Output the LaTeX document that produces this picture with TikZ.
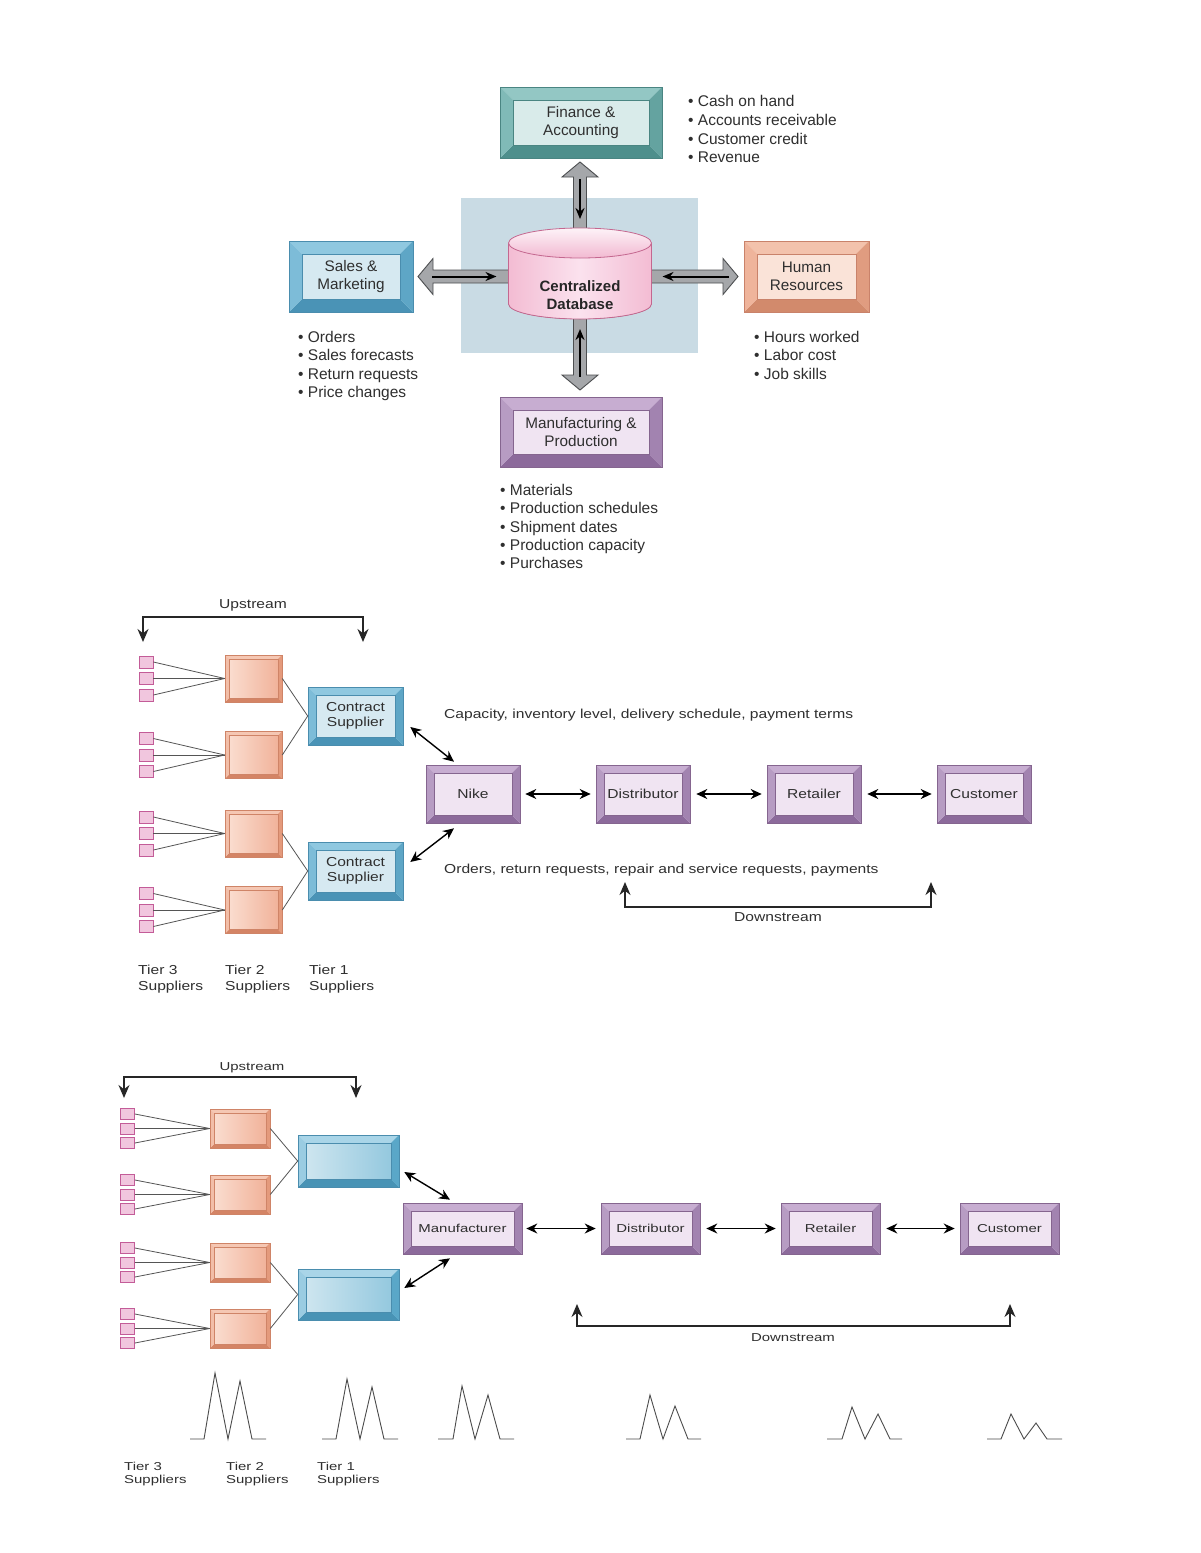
\documentclass[tikz,border=0pt]{standalone}
\usepackage{fontspec}
\setmainfont{Liberation Sans}
\newfontfamily\wfa[FakeStretch=1.2]{Liberation Sans}
\newfontfamily\wfb[FakeStretch=1.3]{Liberation Sans}
\usetikzlibrary{arrows.meta,calc}
% colour schemes: T top, L left, B bottom, R right, I inner, D border
\definecolor{tealT}{HTML}{93C7C4}\definecolor{tealL}{HTML}{80BAB7}\definecolor{tealB}{HTML}{4E8F8C}
\definecolor{tealR}{HTML}{64A3A0}\definecolor{tealI}{HTML}{D9EBEA}\definecolor{tealD}{HTML}{4A8582}
\definecolor{bluT}{HTML}{8FC8E0}\definecolor{bluL}{HTML}{7DBCD8}\definecolor{bluB}{HTML}{4A93B6}
\definecolor{bluR}{HTML}{5EA6C6}\definecolor{bluI}{HTML}{D6E9F1}\definecolor{bluD}{HTML}{4A8DAE}
\definecolor{salT}{HTML}{F3C2AC}\definecolor{salL}{HTML}{EFB49B}\definecolor{salB}{HTML}{D28A6C}
\definecolor{salR}{HTML}{E09C80}\definecolor{salI}{HTML}{FAE3D8}\definecolor{salD}{HTML}{C9826A}
\definecolor{purT}{HTML}{C7ADD1}\definecolor{purL}{HTML}{B79CC3}\definecolor{purB}{HTML}{8C6A9B}
\definecolor{purR}{HTML}{A283B0}\definecolor{purI}{HTML}{F0E4F2}\definecolor{purD}{HTML}{85658F}
\definecolor{sal2T}{HTML}{F5C7B3}\definecolor{sal2L}{HTML}{F2BEA8}\definecolor{sal2B}{HTML}{D48465}
\definecolor{sal2R}{HTML}{E49A7C}\definecolor{sal2D}{HTML}{CF8467}
\definecolor{sal2a}{HTML}{FBE0D3}\definecolor{sal2b}{HTML}{F0AF96}
\definecolor{blu2T}{HTML}{A9D5E8}\definecolor{blu2L}{HTML}{9ACCE2}\definecolor{blu2B}{HTML}{4893B5}
\definecolor{blu2R}{HTML}{5AA7C8}\definecolor{blu2D}{HTML}{4A8DAE}
\definecolor{blu2a}{HTML}{D3E8F1}\definecolor{blu2b}{HTML}{8FC6DD}
\definecolor{sqF}{HTML}{F1C6DE}\definecolor{sqD}{HTML}{C35C98}
\definecolor{bgsq}{HTML}{C9DBE4}
\definecolor{dbside}{HTML}{F3BCD3}\definecolor{dbmid}{HTML}{FBE2EE}\definecolor{dbedge}{HTML}{C4678F}
\definecolor{dbtop}{HTML}{FDF3F8}\definecolor{dbtopb}{HTML}{F2B9D1}
\definecolor{garF}{HTML}{A5A7AA}\definecolor{garD}{HTML}{4D4F51}
\definecolor{txt}{HTML}{2F2F2F}
\definecolor{lnc}{HTML}{555555}

\tikzset{
  bevd/.store in=\bevd, bevd=12pt,
  bevel/.style={draw=#1D, line width=0.6pt, inner sep=0pt, align=center, text=txt,
    path picture={
      \coordinate (bA) at (path picture bounding box.south west);
      \coordinate (bC) at (path picture bounding box.north east);
      \coordinate (bB) at (bA-|bC);
      \coordinate (bD) at (bA|-bC);
      \fill[#1T] (bD) -- (bC) -- ([shift={(-\bevd,-\bevd)}]bC) -- ([shift={(\bevd,-\bevd)}]bD) -- cycle;
      \fill[#1B] (bA) -- (bB) -- ([shift={(-\bevd,\bevd)}]bB) -- ([shift={(\bevd,\bevd)}]bA) -- cycle;
      \fill[#1L] (bA) -- (bD) -- ([shift={(\bevd,-\bevd)}]bD) -- ([shift={(\bevd,\bevd)}]bA) -- cycle;
      \fill[#1R] (bB) -- (bC) -- ([shift={(-\bevd,-\bevd)}]bC) -- ([shift={(-\bevd,\bevd)}]bB) -- cycle;
      \draw[#1D, line width=0.4pt] ([shift={(\bevd,\bevd)}]bA) rectangle ([shift={(-\bevd,-\bevd)}]bC);
    }},
  topbox/.style={bevel=#1, fill=#1I, bevd=13pt, font=\fontsize{15.3}{18}\selectfont},
  midbox/.style={bevel=#1, fill=#1I, bevd=8pt, font=\wfa\fontsize{13}{15}\selectfont},
  botbox/.style={bevel=#1, fill=#1I, bevd=8pt, font=\wfb\fontsize{11.5}{13}\selectfont},
  tiertwo/.style={bevel=sal2, left color=sal2a, right color=sal2b, bevd=4pt},
  tierone/.style={bevel=blu2, left color=blu2a, right color=blu2b, bevd=8pt},
  sqm/.style={draw=sqD, fill=sqF, line width=0.8pt, inner sep=0pt, minimum width=14pt, minimum height=12pt},
  sqb/.style={draw=sqD, fill=sqF, line width=0.8pt, inner sep=0pt, minimum width=14pt, minimum height=11pt},
  fan/.style={draw=lnc, line width=0.8pt},
  bul/.style={anchor=north west, inner sep=0pt, align=left, text=txt, font=\fontsize{15.5}{18.3}\selectfont},
  midtxt/.style={inner sep=0pt, text=txt, font=\wfa\fontsize{13}{16}\selectfont, align=left},
  bottxt/.style={inner sep=0pt, text=txt, font=\wfb\fontsize{11.5}{12.5}\selectfont, align=left},
  garr/.style={fill=garF, draw=garD, line width=0.9pt, line join=miter},
  blk/.style={-{Stealth[length=11pt,width=9pt]}, line width=2pt, black},
  dbl/.style={{Stealth[length=11pt,width=10pt]}-{Stealth[length=11pt,width=10pt]}, line width=1.4pt, black},
  brk/.style={{Stealth[length=13pt,width=11pt]}-{Stealth[length=13pt,width=11pt]}, line width=1.3pt, black!85},
  peak/.style={draw=black!70, line width=0.9pt, line join=miter},
}
\newcommand\garrow[4]{%
  \begin{scope}[shift={(#1,#2)}, rotate=#3]
    \filldraw[garr] (0,0) -- (15,18) -- (15,6.5) -- (#4,6.5) -- (#4,-6.5) -- (15,-6.5) -- (15,-18) -- cycle;
  \end{scope}}

\begin{document}
\begin{tikzpicture}[x=1pt,y=-1pt]
\useasboundingbox[fill=white] (0,0) rectangle (1200,1553);

% ================= TOP DIAGRAM =================
\fill[bgsq] (461,198) rectangle (698,353);
\garrow{580}{162}{-90}{80}
\garrow{418}{276.5}{0}{97}
\garrow{738}{276.5}{180}{93}
\garrow{580}{390}{90}{78}

% cylinder
\fill[left color=dbside, right color=dbside, middle color=dbmid] (508.5,243) -- (508.5,304) arc[start angle=180,end angle=360,x radius=71.5pt,y radius=15pt] -- (651.5,243) -- cycle;
\draw[dbedge, line width=0.8pt] (508.5,243) -- (508.5,304) arc[start angle=180,end angle=360,x radius=71.5pt,y radius=15pt] -- (651.5,243);
\draw[dbedge, line width=0.8pt, top color=dbtop, bottom color=dbtopb] (580,243) ellipse[x radius=71.5pt, y radius=15pt];
\node[inner sep=0pt, align=center, font=\bfseries\fontsize{15}{18}\selectfont, text=black!85] (db) at (580,295) {Centralized\\Database};
\coordinate (dbN) at (580,228);
\coordinate (dbS) at (580,319);
\coordinate (dbW) at (508.5,276.5);
\coordinate (dbE) at (651.5,276.5);

\node[topbox=teal, minimum width=162pt, minimum height=71pt] (fin) at (581,122.5) {Finance \&\\Accounting};
\node[topbox=blu, minimum width=124pt, minimum height=71pt] (sal) at (351,276.5) {Sales \&\\Marketing};
\node[topbox=sal, minimum width=125pt, minimum height=71pt] (hr) at (806.5,276.5) {Human\\Resources};
\node[topbox=pur, minimum width=162pt, minimum height=70pt] (mfg) at (581,432) {Manufacturing \&\\Production};

\draw[blk] ($(dbN|-fin.south)+(0,21)$) -- ($(dbN)+(0,-9)$);
\draw[blk] ($(sal.east)+(19,0)$) -- ($(dbW)+(-12,0)$);
\draw[blk] ($(hr.west)+(-15,0)$) -- ($(dbE)+(11,0)$);
\draw[blk] ($(dbS|-mfg.north)+(0,-20)$) -- ($(dbS)+(0,10)$);

\node[bul, font=\fontsize{15.5}{18.8}\selectfont] (finlist) at (688,95) {• Cash on hand\\• Accounts receivable\\• Customer credit\\• Revenue};
\node[bul] (sallist) at (298,331) {• Orders\\• Sales forecasts\\• Return requests\\• Price changes};
\node[bul] (hrlist) at (754,331) {• Hours worked\\• Labor cost\\• Job skills};
\node[bul] (mfglist) at (500,484) {• Materials\\• Production schedules\\• Shipment dates\\• Production capacity\\• Purchases};

% ================= MIDDLE DIAGRAM =================
\node[midtxt] (upm) at (253,605) {Upstream};
\coordinate (upmA) at (143,642);
\coordinate (upmB) at (363,642);
\draw[brk] (upmA) -- (143,617) -- (363,617) -- (upmB);

\foreach \g/\yy in {1/678.5,2/755,3/833.5,4/910}{
  \node[tiertwo, minimum width=57pt, minimum height=47pt] (mt\g) at (253.5,\yy) {};
  \foreach \d/\j in {-16.5/a,0/b,16.5/c}{
    \node[sqm] (ms\g\j) at (146,{\yy+(\d)}) {};
    \draw[fan] (ms\g\j.east) -- (mt\g.west);
  }
}
\node[midbox=blu, minimum width=95pt, minimum height=58pt] (cs1) at (355.5,716) {Contract\\Supplier};
\node[midbox=blu, minimum width=95pt, minimum height=58pt] (cs2) at (355.5,871) {Contract\\Supplier};
\draw[fan] (mt1.east) -- (cs1.west);
\draw[fan] (mt2.east) -- (cs1.west);
\draw[fan] (mt3.east) -- (cs2.west);
\draw[fan] (mt4.east) -- (cs2.west);

\node[midbox=pur, minimum width=94pt, minimum height=58pt] (nike) at (473,794) {Nike};
\node[midbox=pur, minimum width=94pt, minimum height=58pt] (mdis) at (643,794) {Distributor};
\node[midbox=pur, minimum width=94pt, minimum height=58pt] (mret) at (814,794) {Retailer};
\node[midbox=pur, minimum width=94pt, minimum height=58pt] (mcus) at (984,794) {Customer};

\draw[dbl] ($(cs1.east)+(7,11)$) -- ($(nike.north)+(-19,-3)$);
\draw[dbl] ($(cs2.east)+(7,-9)$) -- ($(nike.south)+(-19,5)$);
\draw[dbl, shorten <=5pt, shorten >=5pt] (nike.east) -- (mdis.west);
\draw[dbl, shorten <=6pt, shorten >=5pt] (mdis.east) -- (mret.west);
\draw[dbl, shorten <=6pt, shorten >=5pt] (mret.east) -- (mcus.west);

\node[midtxt, anchor=west] (cap) at (444,715) {Capacity, inventory level, delivery schedule, payment terms};
\node[midtxt, anchor=west] (ord) at (444,870) {Orders, return requests, repair and service requests, payments};

\coordinate (dnmA) at (625,882);
\coordinate (dnmB) at (931,882);
\draw[brk] (dnmA) -- (625,907) -- (931,907) -- (dnmB);
\node[midtxt] (dnm) at (778,917) {Downstream};

\node[midtxt, anchor=north west] (t3m) at (138,965) {Tier 3\\Suppliers};
\node[midtxt, anchor=north west] (t2m) at (225,965) {Tier 2\\Suppliers};
\node[midtxt, anchor=north west] (t1m) at (309,965) {Tier 1\\Suppliers};

% ================= BOTTOM DIAGRAM =================
\node[bottxt] (upb) at (252,1068) {Upstream};
\coordinate (upbA) at (124,1098);
\coordinate (upbB) at (356,1098);
\draw[brk] (upbA) -- (124,1077) -- (356,1077) -- (upbB);

\foreach \g/\yy in {1/1128.5,2/1194.5,3/1262.5,4/1328.5}{
  \node[tiertwo, minimum width=60pt, minimum height=39pt] (bt\g) at (240,\yy) {};
  \foreach \d/\j in {-14.5/a,0/b,14.5/c}{
    \node[sqb] (bs\g\j) at (127.5,{\yy+(\d)}) {};
    \draw[fan] (bs\g\j.east) -- (bt\g.west);
  }
}
\node[tierone, minimum width=101pt, minimum height=52pt] (bo1) at (348.5,1161) {};
\node[tierone, minimum width=101pt, minimum height=51pt] (bo2) at (348.5,1294.5) {};
\draw[fan] (bt1.east) -- (bo1.west);
\draw[fan] (bt2.east) -- (bo1.west);
\draw[fan] (bt3.east) -- (bo2.west);
\draw[fan] (bt4.east) -- (bo2.west);

\node[botbox=pur, minimum width=119pt, minimum height=51pt] (man) at (462.5,1228.5) {Manufacturer};
\node[botbox=pur, minimum width=99pt, minimum height=51pt] (bdis) at (650.5,1228.5) {Distributor};
\node[botbox=pur, minimum width=99pt, minimum height=51pt] (bret) at (830.5,1228.5) {Retailer};
\node[botbox=pur, minimum width=99pt, minimum height=51pt] (bcus) at (1009.5,1228.5) {Customer};

\draw[dbl] ($(bo1.east)+(5,11)$) -- ($(man.north)+(-12.5,-3)$);
\draw[dbl] ($(bo2.east)+(5,-6.5)$) -- ($(man.south)+(-12.5,4)$);
\draw[dbl, shorten <=4pt, shorten >=5pt] (man.east) -- (bdis.west);
\draw[dbl, shorten <=6pt, shorten >=5pt] (bdis.east) -- (bret.west);
\draw[dbl, shorten <=6pt, shorten >=5pt] (bret.east) -- (bcus.west);

\coordinate (dnbA) at (577,1304);
\coordinate (dnbB) at (1010,1304);
\draw[brk] (dnbA) -- (577,1326) -- (1010,1326) -- (dnbB);
\node[bottxt] (dnb) at (793,1338) {Downstream};

% bullwhip peaks
\draw[peak] (190,1439) -- (204,1439) -- (215,1373) -- (228,1439) -- (240,1381) -- (252,1439) -- (266,1439);
\draw[peak] (322,1439) -- (336,1439) -- (347,1379) -- (360,1439) -- (372,1387) -- (384,1439) -- (398,1439);
\draw[peak] (438,1439) -- (453,1439) -- (462,1386) -- (475,1439) -- (488,1395) -- (500,1439) -- (514,1439);
\draw[peak] (626,1439) -- (640,1439) -- (650,1395) -- (663,1439) -- (675,1406) -- (688,1439) -- (701,1439);
\draw[peak] (827,1439) -- (842,1439) -- (852,1407) -- (865,1439) -- (878,1414) -- (890,1439) -- (902,1439);
\draw[peak] (987,1439) -- (1001,1439) -- (1011,1414) -- (1024,1439) -- (1036,1423) -- (1047,1439) -- (1062,1439);

\node[bottxt, anchor=north west] (t3b) at (124,1462) {Tier 3\\Suppliers};
\node[bottxt, anchor=north west] (t2b) at (226,1462) {Tier 2\\Suppliers};
\node[bottxt, anchor=north west] (t1b) at (317,1462) {Tier 1\\Suppliers};
\end{tikzpicture}
\end{document}
